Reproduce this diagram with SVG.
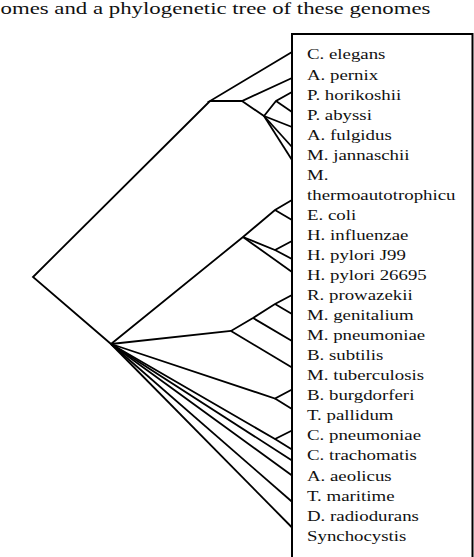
<svg xmlns="http://www.w3.org/2000/svg" width="474" height="557" viewBox="0 0 474 557">
<style>
.e{fill:none;stroke:#000;stroke-width:1.8;stroke-linejoin:miter;stroke-linecap:butt}
.b{fill:none;stroke:#000;stroke-width:2}
.t{font-family:"Liberation Serif","Times New Roman",serif;font-size:14.5px;fill:#111}
.h{font-family:"Liberation Serif","Times New Roman",serif;font-size:16.5px;fill:#111}
</style>
<rect width="474" height="557" fill="#fff"/>
<g id="title"><text class="h" x="0.5" y="14" textLength="430" lengthAdjust="spacingAndGlyphs">omes and a phylogenetic tree of these genomes</text></g>
<g id="legend-box"><path class="b" d="M292,560 V34 H472.5 V560"/></g>
<g id="connectors">
<path class="e" d="M210,101 L33,277 L111,344"/>
<path class="e" d="M292,52 L210,101 H242 L292,78"/>
<path class="e" d="M242,101 L264,116 L276,101 L292,92"/>
<path class="e" d="M276,101 L292,112"/>
<path class="e" d="M264,116 L292,127"/>
<path class="e" d="M264,116 L292,147"/>
<path class="e" d="M264,116 L292,160"/>
<path class="e" d="M111,344 L243,237 L275,210 L292,200"/>
<path class="e" d="M275,210 L292,220"/>
<path class="e" d="M243,237 L275,250 L292,241"/>
<path class="e" d="M275,250 L292,259"/>
<path class="e" d="M243,237 L292,272"/>
<path class="e" d="M111,344 L231,331 L253,318 L275,304 L292,295"/>
<path class="e" d="M275,304 L292,314"/>
<path class="e" d="M253,318 L292,341"/>
<path class="e" d="M231,331 L292,367.5"/>
<path class="e" d="M111,344 L275,398.5 L292,389.5"/>
<path class="e" d="M275,398.5 L292,409"/>
<path class="e" d="M111,344 L275,439 L292,430.5"/>
<path class="e" d="M275,439 L292,449.5"/>
<path class="e" d="M111,344 L292,460.5"/>
<path class="e" d="M111,344 L292,475.5"/>
<path class="e" d="M111,344 L292,501.7"/>
<path class="e" d="M111,344 L292,527.5"/>
</g>
<g transform="translate(307,0) scale(1.3,1)">
<g id="n-c-elegans"><text class="t" x="0" y="59.5">C. elegans</text></g>
<g id="n-a-pernix"><text class="t" x="0" y="79.6">A. pernix</text></g>
<g id="n-p-horikoshii"><text class="t" x="0" y="99.6">P. horikoshii</text></g>
<g id="n-p-abyssi"><text class="t" x="0" y="119.7">P. abyssi</text></g>
<g id="n-a-fulgidus"><text class="t" x="0" y="139.7">A. fulgidus</text></g>
<g id="n-m-jannaschii"><text class="t" x="0" y="159.8">M. jannaschii</text></g>
<g id="n-m-thermo"><text class="t" x="0" y="179.8">M.</text><text class="t" x="0" y="199.9">thermoautotrophicu</text></g>
<g id="n-e-coli"><text class="t" x="0" y="219.9">E. coli</text></g>
<g id="n-h-influenzae"><text class="t" x="0" y="240">H. influenzae</text></g>
<g id="n-h-pylori-j99"><text class="t" x="0" y="260">H. pylori J99</text></g>
<g id="n-h-pylori-26695"><text class="t" x="0" y="280">H. pylori 26695</text></g>
<g id="n-r-prowazekii"><text class="t" x="0" y="300.1">R. prowazekii</text></g>
<g id="n-m-genitalium"><text class="t" x="0" y="320.2">M. genitalium</text></g>
<g id="n-m-pneumoniae"><text class="t" x="0" y="340.2">M. pneumoniae</text></g>
<g id="n-b-subtilis"><text class="t" x="0" y="360.3">B. subtilis</text></g>
<g id="n-m-tuberculosis"><text class="t" x="0" y="380.3">M. tuberculosis</text></g>
<g id="n-b-burgdorferi"><text class="t" x="0" y="400.4">B. burgdorferi</text></g>
<g id="n-t-pallidum"><text class="t" x="0" y="420.4">T. pallidum</text></g>
<g id="n-c-pneumoniae"><text class="t" x="0" y="440.5">C. pneumoniae</text></g>
<g id="n-c-trachomatis"><text class="t" x="0" y="460.5">C. trachomatis</text></g>
<g id="n-a-aeolicus"><text class="t" x="0" y="480.6">A. aeolicus</text></g>
<g id="n-t-maritime"><text class="t" x="0" y="500.6">T. maritime</text></g>
<g id="n-d-radiodurans"><text class="t" x="0" y="520.7">D. radiodurans</text></g>
<g id="n-synchocystis"><text class="t" x="0" y="540.7">Synchocystis</text></g>
</g>
</svg>
